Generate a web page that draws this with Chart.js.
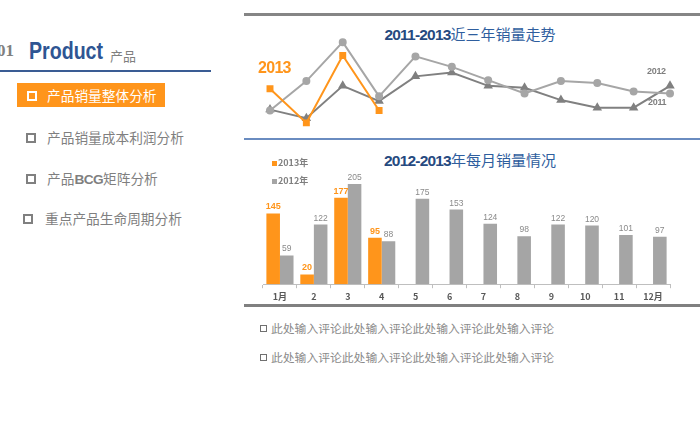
<!DOCTYPE html>
<html>
<head>
<meta charset="utf-8">
<script src="https://cdn.jsdelivr.net/npm/chart.js@4/dist/chart.umd.min.js"></script>
<style>
  body { margin: 0; background: #fff; }
  #page { position: relative; width: 700px; height: 434px; overflow: hidden; font-family: "Noto Sans CJK SC", "Noto Sans", sans-serif; }
  .abs { position: absolute; white-space: nowrap; }
  .narrow { font-family: "Liberation Sans", Arial, sans-serif; font-weight: bold; letter-spacing: -0.7px; }
  .menu { position: absolute; left: 17px; height: 24px; line-height: 24px; font-size: 13.7px; color: #7f7f7f; white-space: nowrap; }
  .menu .ico { position: absolute; top: 8px; width: 6px; height: 6px; border: 2px solid #808080; }
  .menu .txt { position: absolute; left: 30px; top: 0; }
  .note { position: absolute; left: 260px; font-size: 11.8px; color: #8a8a8a; line-height: 16px; white-space: nowrap; }
  .note .ico { display: inline-block; width: 5px; height: 5px; border: 1.5px solid #707070; margin-right: 4px; vertical-align: 1px; }
  .hr { position: absolute; left: 244px; width: 456px; }
  .ttl { position: absolute; left: 300px; width: 340px; text-align: center; font-size: 15px; color: #2f5e9e; line-height: 20px; white-space: nowrap; }
  .ttl b { font-family: "Liberation Sans", Arial, sans-serif; font-size: 15.5px; letter-spacing: -0.8px; color: #264a80; }
</style>
</head>
<body>
<div id="page">
  <!-- left header -->
  <div class="abs" style="left:-3px; top:41px; font-family:'Liberation Serif',serif; font-weight:bold; font-size:17px; color:#808080;">01</div>
  <div class="abs" style="left:29px; top:38px; font-family:'Liberation Sans',Arial,sans-serif; font-weight:bold; font-size:20px; color:#2e5593; transform:scale(0.98,1.15); transform-origin:left top;">Product</div>
  <div class="abs" style="left:110px; top:46px; font-size:13px; color:#7f7f7f;">产品</div>
  <div class="abs" style="left:0; top:70px; width:211px; height:2px; background:#3a5c94;"></div>

  <div class="menu" style="top:83px; width:148px; background:#ff951b; color:#fff;">
    <span class="ico" style="left:10px; border-color:#fff;"></span><span class="txt">产品销量整体分析</span></div>
  <div class="menu" style="top:125px;">
    <span class="ico" style="left:9px;"></span><span class="txt">产品销量成本利润分析</span></div>
  <div class="menu" style="top:166px;">
    <span class="ico" style="left:9px;"></span><span class="txt">产品<b style="font-family:'Liberation Sans',Arial,sans-serif; letter-spacing:-0.6px;">BCG</b>矩阵分析</span></div>
  <div class="menu" style="top:206px;">
    <span class="ico" style="left:6px;"></span><span class="txt" style="left:28px;">重点产品生命周期分析</span></div>

  <!-- right frame lines -->
  <div class="hr" style="top:13px; height:3px; background:#858585;"></div>
  <div class="hr" style="top:138px; height:2px; background:#6a8cc0;"></div>
  <div class="hr" style="top:304px; height:3px; background:#808080;"></div>

  <div class="ttl" style="top:24px;"><b>2011-2013</b>近三年销量走势</div>
  <div class="ttl" style="top:150px;"><b>2012-2013</b>年每月销量情况</div>

  <canvas id="lineChart" width="440" height="130" style="position:absolute; left:250px; top:20px;"></canvas>
  <div class="abs narrow" style="left:258px; top:59px; font-size:16px; color:#ff951b;">2013</div>
  <div class="abs narrow" style="left:647px; top:66px; font-size:9px; letter-spacing:-0.3px; color:#7f7f7f;">2012</div>
  <div class="abs narrow" style="left:648px; top:97px; font-size:9px; letter-spacing:-0.3px; color:#7f7f7f;">2011</div>

  <canvas id="barChart" width="440" height="156" style="position:absolute; left:250px; top:150px;"></canvas>
  <div class="abs" style="left:272px; top:157px; font-size:9px; font-weight:bold; color:#7f7f7f; line-height:12px;">
    <span style="display:inline-block; width:5px; height:5px; background:#ff951b; margin-right:1px;"></span>2013年</div>
  <div class="abs" style="left:272px; top:175px; font-size:9px; font-weight:bold; color:#7f7f7f; line-height:12px;">
    <span style="display:inline-block; width:5px; height:5px; background:#a5a5a5; margin-right:1px;"></span>2012年</div>

  <div class="note" style="top:320px;"><span class="ico"></span>此处输入评论此处输入评论此处输入评论此处输入评论</div>
  <div class="note" style="top:349px;"><span class="ico"></span>此处输入评论此处输入评论此处输入评论此处输入评论</div>
</div>

<script>
var months = ['1', '2', '3', '4', '5', '6', '7', '8', '9', '10', '11', '12'];
var barLabels = ['1月', '2', '3', '4', '5', '6', '7', '8', '9', '10', '11', '12月'];

// trend chart (no axis in the picture, values read off relative heights)
var trend2013 = [54, 18, 89, 31, null, null, null, null, null, null, null, null];
var trend2012 = [31, 62, 103, 46, 88, 77, 63, 49, 62, 60, 51, 49];
var trend2011 = [32, 23, 57, 41, 67, 71, 57, 55, 42, 34, 34, 57];

// monthly sales
var sales2013 = [145, 20, 177, 95, null, null, null, null, null, null, null, null];
var sales2012 = [59, 122, 205, 88, 175, 153, 124, 98, 122, 120, 101, 97];

var orange = '#ff951b',
    lightGray = '#a6a6a6',
    darkGray = '#808080';

new Chart(document.getElementById('lineChart'), {
    type: 'line',
    data: {
        labels: months,
        datasets: [
            { data: trend2013, borderColor: orange, backgroundColor: orange, pointStyle: 'rect', pointRadius: 3.5, borderWidth: 2, clip: false },
            { data: trend2012, borderColor: lightGray, backgroundColor: lightGray, pointStyle: 'circle', pointRadius: 3, borderWidth: 2, clip: false },
            { data: trend2011, borderColor: darkGray, backgroundColor: darkGray, pointStyle: 'triangle', pointRadius: 3.5, borderWidth: 2, clip: false }
        ]
    },
    options: {
        responsive: false,
        animation: false,
        layout: { padding: { left: 20, right: 20, top: 0, bottom: 10 } },
        plugins: { legend: { display: false }, tooltip: { enabled: false } },
        scales: {
            x: { display: false },
            y: { display: false, min: 0, max: 120 }
        }
    }
});

var barValueLabels = {
    id: 'barValueLabels',
    afterDatasetsDraw: function (chart) {
        var ctx = chart.ctx;
        chart.data.datasets.forEach(function (ds, i) {
            var meta = chart.getDatasetMeta(i);
            meta.data.forEach(function (bar, j) {
                if (ds.data[j] == null) return;
                ctx.save();
                ctx.font = ds.labelFont;
                ctx.fillStyle = ds.labelColor;
                ctx.textAlign = 'center';
                ctx.textBaseline = 'bottom';
                ctx.fillText(ds.data[j], bar.x, bar.y - 2);
                ctx.restore();
            });
        });
    }
};

new Chart(document.getElementById('barChart'), {
    type: 'bar',
    data: {
        labels: barLabels,
        datasets: [
            { label: '2013年', data: sales2013, backgroundColor: orange, categoryPercentage: 0.8, barPercentage: 1.0,
              labelFont: 'bold 9px "Liberation Sans", Arial, sans-serif', labelColor: orange },
            { label: '2012年', data: sales2012, backgroundColor: '#a5a5a5', categoryPercentage: 0.8, barPercentage: 1.0,
              labelFont: '8.5px "Liberation Sans", Arial, sans-serif', labelColor: '#8a8a8a' }
        ]
    },
    options: {
        responsive: false,
        animation: false,
        layout: { padding: { left: 13, right: 20, top: 17, bottom: 1 } },
        plugins: { legend: { display: false }, tooltip: { enabled: false } },
        scales: {
            x: {
                grid: { drawOnChartArea: false, drawTicks: true, tickLength: 4, color: '#bfbfbf' },
                border: { display: true, color: '#bfbfbf' },
                ticks: { color: '#595959', padding: 3, font: { size: 9, weight: 'bold', family: '"Noto Sans CJK SC", "Liberation Sans", sans-serif' } }
            },
            y: { display: false, min: 0, max: 240 }
        }
    },
    plugins: [barValueLabels]
});
</script>
</body>
</html>
